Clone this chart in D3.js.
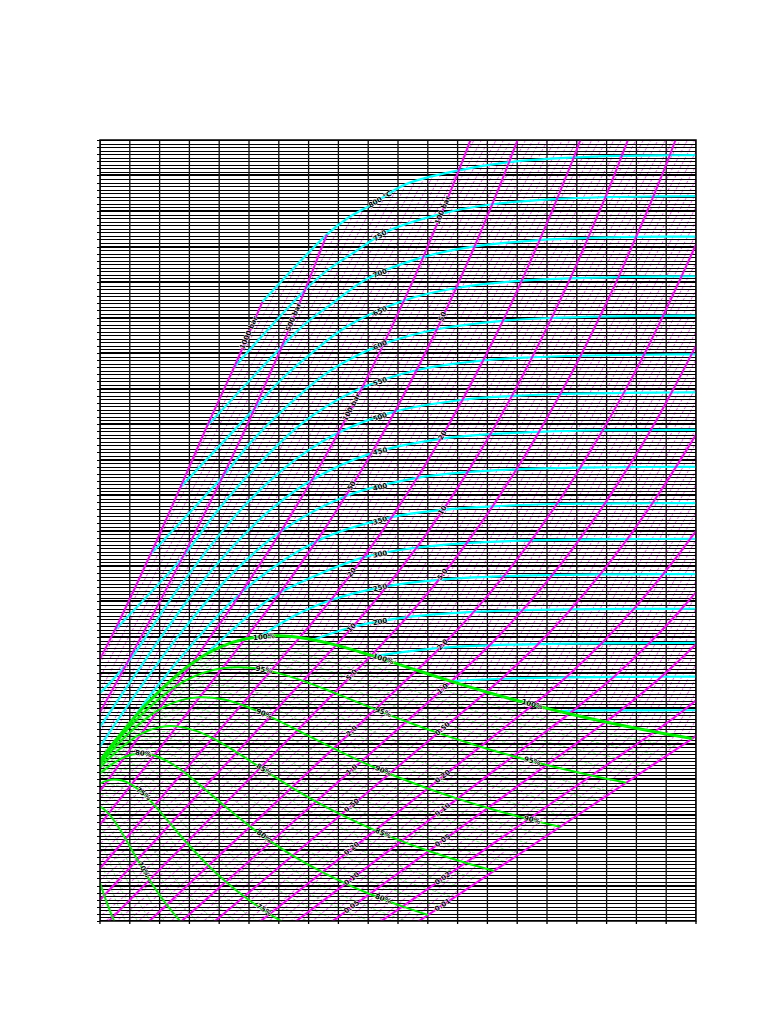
<!DOCTYPE html>
<html lang="en">
<head>
<meta charset="UTF-8">
<title>Mollier chart</title>
<script src="https://cdn.jsdelivr.net/npm/d3@7"></script>
<style>
  body {margin: 0; background: #fff}
  svg {display: block}
  text {font-family: "DejaVu Sans", sans-serif}
</style>
</head>
<body>
<script>

// page and plot box
var w = 768, h = 1024;
var plotL = 100, plotR = 696, plotT = 140, plotB = 921;

// entropy (kJ/kgK) and enthalpy (kJ/kg) ranges
var sDomain = [5, 9];
var hDomain = [2000, 4200];

// saturation table, by pressure (bar)
var satP  = [220.64, 210, 200, 180, 150, 100, 70, 50, 30, 20, 10, 5, 2, 1, 0.5, 0.2, 0.1, 0.05, 0.02, 0.01];
var satHf = [2084.3, 1889, 1827.2, 1732.0, 1610.2, 1408.1, 1267.5, 1154.5, 1008.3, 908.5, 762.5, 640.1, 504.7, 417.5, 340.5, 251.4, 191.8, 137.7, 73.4, 29.3];
var satHg = [2084.3, 2341, 2412.3, 2509.7, 2610.7, 2725.5, 2772.6, 2794.2, 2803.3, 2798.3, 2777.1, 2748.1, 2706.2, 2674.9, 2645.2, 2608.9, 2583.9, 2560.7, 2533.0, 2513.7];
var satSf = [4.407, 4.108, 4.0156, 3.8715, 3.6848, 3.3606, 3.1224, 2.9210, 2.6454, 2.4467, 2.1381, 1.8604, 1.5302, 1.3028, 1.0912, 0.8320, 0.6492, 0.4763, 0.2606, 0.1059];
var satSg = [4.407, 4.812, 4.9314, 5.1060, 5.3108, 5.6160, 5.8148, 5.9737, 6.1856, 6.3390, 6.5850, 6.8207, 7.1269, 7.3588, 7.5930, 7.9072, 8.1488, 8.3939, 8.7226, 8.9749];

// saturated vapour, by temperature (start of each isotherm)
var satTT  = [50, 100, 150, 200, 250, 300, 350];
var satTSg = [8.0748, 7.3541, 6.8371, 6.4302, 6.0721, 5.7059, 5.2112];
var satTHg = [2591.3, 2675.6, 2745.9, 2792.0, 2800.9, 2749.6, 2563.9];

// superheated / supercritical states per pressure: [T, s, h]
var p1000 = [[500,4.75,2540],[550,5.10,2820],[600,5.34,3034],[650,5.54,3222],[700,5.72,3395],[750,5.90,3560],[800,6.09,3744]];
var p500 = [[400,4.0029,1874.4],[450,4.5896,2284.7],[500,5.1762,2722.5],[550,5.5563,3025.7],[600,5.8245,3252.6],[650,6.0373,3443.5],[700,6.2179,3616.7],[750,6.375,3777],[800,6.5225,3933.4]];
var p400 = [[450,4.9449,2511.8],[500,5.4744,2906.5],[550,5.7857,3154.4],[600,6.0170,3350.4],[650,6.2078,3521.8],[700,6.3740,3681.0],[750,6.52,3831],[800,6.6613,3979.6]];
var p300 = [[400,4.4750,2152.8],[450,5.4464,2821.4],[500,5.7956,3084.8],[550,6.03,3272],[600,6.2373,3443.0],[650,6.404,3594],[700,6.5599,3739.7],[750,6.70,3882],[800,6.832,4020]];
var p250 = [[400,5.1418,2580.2],[450,5.675,2950],[500,5.9605,3165.7]];
var p200 = [[400,5.5585,2819.9],[450,5.9089,3062.4],[500,6.1434,3241.2],[550,6.3390,3396.2],[600,6.5075,3539.0],[650,6.6593,3675.3],[700,6.7990,3810.7],[750,6.93,3943],[800,7.051,4075]];
var p150 = [[350,5.4438,2692.4],[400,5.8811,2975.7],[450,6.1434,3157.9],[500,6.3480,3310.8],[550,6.5230,3450.4],[600,6.6796,3583.1]];
var p100 = [[350,5.9460,2924.0],[400,6.2141,3097.4],[450,6.4219,3242.4],[500,6.5995,3375.1],[550,6.7585,3502.0],[600,6.9045,3625.8],[650,7.0408,3748.1],[700,7.1693,3870.0],[750,7.2904,3992.0],[800,7.4085,4114.5],[900,7.63,4361]];
var p60 = [[300,6.0703,2885.5]];
var p50 = [[300,6.2110,2925.7],[350,6.4516,3069.3],[400,6.6483,3196.7],[450,6.8210,3317.2],[500,6.9781,3434.7],[550,7.1237,3551.4],[600,7.2605,3666.9],[650,7.3904,3783.0],[700,7.5136,3900.3],[750,7.6324,4019.0],[800,7.7458,4137.7],[900,7.96,4378]];
var p30 = [[250,6.2893,2856.5]];
var p20 = [[250,6.5475,2903.3],[300,6.7684,3024.2],[350,6.9583,3137.7],[400,7.1292,3248.4],[450,7.2866,3358.2],[500,7.4337,3468.3],[550,7.5725,3579.4],[600,7.7043,3690.7],[650,7.8305,3803.8],[700,7.9509,3918.2],[750,8.0673,4034.0],[800,8.1791,4150.7],[900,8.391,4389]];
var p10 = [[200,6.6956,2828.3],[250,6.9265,2943.1],[300,7.1246,3051.6],[350,7.3029,3158.2],[400,7.4670,3264.5],[450,7.6200,3371.3],[500,7.7642,3479.1],[550,7.9003,3588.0],[600,8.0311,3698.6],[650,8.1565,3810.4],[700,8.2755,3924.1],[750,8.392,4039.0],[800,8.5024,4155.2],[900,8.714,4392]];
var p5 = [[200,7.0611,2855.8],[250,7.2726,2961.0],[300,7.4614,3064.6],[350,7.6346,3168.1],[400,7.7956,3272.4],[450,7.9465,3378.0],[500,8.0893,3484.5],[550,8.226,3592.3],[600,8.3544,3702.5],[650,8.480,3813.7],[700,8.5978,3927.0],[750,8.714,4041.0],[800,8.824,4157.0],[900,9.034,4393]];
var p2 = [[150,7.2810,2769.1],[200,7.5081,2870.7],[250,7.7100,2971.2],[300,7.8941,3072.1],[350,8.066,3174.6],[400,8.2236,3277.0],[450,8.374,3382.4],[500,8.5153,3487.7],[550,8.651,3595.0],[600,8.7793,3704.8],[650,8.903,3815.9],[700,9.0221,3927.8],[750,9.137,4042.0],[800,9.247,4158.3]];
var p1 = [[100,7.3611,2675.8],[150,7.6148,2776.6],[200,7.8356,2875.5],[250,8.0346,2974.5],[300,8.2171,3074.5],[350,8.388,3175.8],[400,8.5452,3278.6],[450,8.697,3383.1],[500,8.8362,3488.7],[550,8.970,3596.2],[600,9.0999,3705.1],[650,9.226,3816.5]];
var p05 = [[100,7.6953,2682.4],[150,7.9413,2780.2],[200,8.1592,2877.7],[250,8.3568,2976.2],[300,8.5387,3075.8],[350,8.7076,3176.8],[400,8.8659,3279.2],[450,9.018,3383.5],[500,9.156,3489.0],[550,9.29,3596.5]];
var p02 = [[100,8.1262,2686.2],[150,8.367,2782.3],[200,8.583,2879.0],[250,8.780,2976.9],[300,8.961,3076.2],[350,9.131,3177.0],[400,9.288,3279.5]];
var p01 = [[50,8.1749,2592.6],[100,8.4479,2687.5],[150,8.6882,2783.0],[200,8.9038,2879.5],[250,9.1002,2977.3],[300,9.2813,3076.5]];
var p005 = [[50,8.4948,2593.3],[100,8.7678,2688.1],[150,9.008,2783.2],[200,9.2237,2879.7]];
var p002 = [[50,8.918,2593.6],[100,9.19,2688.4]];
var p001 = [[50,9.238,2593.8],[100,9.51,2688.5]];

// drawn lines and their labels
var isobars = [1000, 500, 100, 50, 20, 10, 5, 2, 1, 0.5, 0.2, 0.1, 0.05, 0.02, 0.01];
var isobarText = ["1000 bar", "500 bar", "100 bar", "50", "20", "10", "5.0", "2.0", "1.0", "0.50", "0.20", "0.10", "0.05", "0.02", "0.01"];
var isotherms = [50, 100, 150, 200, 250, 300, 350, 400, 450, 500, 550, 600, 650, 700, 750, 800];
var labelledTemps = [200, 250, 300, 350, 400, 450, 500, 550, 600, 650, 700, 750, 800];
var qualities = [1.0, 0.95, 0.90, 0.85, 0.80, 0.75, 0.70, 0.65];
var qualityText = ["100%", "95%", "90%", "85%", "80%", "75%", "70%", "65%"];

var rows = [[1000,p1000],[500,p500],[400,p400],[300,p300],[250,p250],[200,p200],[150,p150],[100,p100],[60,p60],[50,p50],[30,p30],[20,p20],[10,p10],[5,p5],[2,p2],[1,p1],[0.5,p05],[0.2,p02],[0.1,p01],[0.05,p005],[0.02,p002],[0.01,p001]];

//Create SVG element
var svg = d3.select("body")
    .append("svg")
    .attr("width", w)
    .attr("height", h);

var x = d3.scaleLinear().domain(sDomain).range([plotL, plotR]);
var y = d3.scaleLinear().domain(hDomain).range([plotB, plotT]);

// grid lines snapped to whole pixels
function snap(v) { return Math.round(v) + 0.5; }

var curve = d3.line()
    .x(function(d) { return x(d[0]); })
    .y(function(d) { return y(d[1]); })
    .curve(d3.curveCatmullRom.alpha(0.5));
var straight = d3.line()
    .x(function(d) { return x(d[0]); })
    .y(function(d) { return y(d[1]); });

var defs = svg.append("defs");
defs.append("clipPath").attr("id", "plot")
    .append("rect")
    .attr("x", plotL).attr("y", plotT)
    .attr("width", plotR - plotL).attr("height", plotB - plotT);

// dashed hatch standing in for the fine intermediate isobars
function hatch(id, angle, gap) {
    var p = defs.append("pattern")
        .attr("id", id)
        .attr("patternUnits", "userSpaceOnUse")
        .attr("width", 5).attr("height", gap)
        .attr("patternTransform", "rotate(" + angle + ")");
    p.append("line")
        .attr("x1", 0).attr("x2", 3)
        .attr("y1", gap / 2).attr("y2", gap / 2)
        .attr("stroke", "#ff40ff")
        .attr("stroke-width", 0.8);
}
hatch("hatchSup", -62, 6.5);
hatch("hatchWet", -40, 7);

// line builders
function satIndex(p) { return satP.indexOf(p); }

function isotherm(T) {
    var pts = [];
    var k = satTT.indexOf(T);
    if (k >= 0) pts.push([satTSg[k], satTHg[k]]);
    rows.forEach(function(r) {
        r[1].forEach(function(d) { if (d[0] === T) pts.push([d[1], d[2]]); });
    });
    return pts;
}

function isobarSuper(p) {
    var pts = [];
    var i = satIndex(p);
    if (i >= 0) pts.push([satSg[i], satHg[i]]);
    var row = rows.filter(function(r) { return r[0] === p; })[0][1];
    row.forEach(function(d) { pts.push([d[1], d[2]]); });
    return pts;
}

function isobarWet(p) {
    var i = satIndex(p);
    if (i < 0) return null;
    return [[satSf[i], satHf[i]], [satSg[i], satHg[i]]];
}

function qualityLine(q) {
    return satP.map(function(p, i) {
        return [satSf[i] + q * (satSg[i] - satSf[i]), satHf[i] + q * (satHg[i] - satHf[i])];
    });
}

var satVapour = satP.map(function(p, i) { return [satSg[i], satHg[i]]; });

// point of a polyline at a given entropy, with the local angle on screen
function atS(pts, s) {
    for (var i = 1; i < pts.length; i++) {
        var a = pts[i - 1], b = pts[i];
        if ((a[0] - s) * (b[0] - s) <= 0 && a[0] !== b[0]) {
            var t = (s - a[0]) / (b[0] - a[0]);
            var hh = a[1] + t * (b[1] - a[1]);
            var ang = Math.atan2(y(b[1]) - y(a[1]), x(b[0]) - x(a[0])) * 180 / Math.PI;
            if (hh < hDomain[0] || hh > hDomain[1]) return null;
            return {s: s, h: hh, ang: ang};
        }
    }
    return null;
}

var plot = svg.append("g").attr("clip-path", "url(#plot)");

// hatch areas
var iso800 = isotherm(800);
var supPoly = p1000.map(function(d) { return [d[1], d[2]]; })
    .concat(iso800.slice(1, 6))
    .concat([[7.63, 4361], [9.6, 4700], [9.6, 2680], [9.238, 2593.8]])
    .concat(satVapour.slice().reverse());
var wetPoly = satVapour.concat([[satSf[satSf.length - 1], satHf[satHf.length - 1]]]);

plot.append("path")
    .attr("d", straight(supPoly) + "Z")
    .attr("fill", "url(#hatchSup)");
plot.append("path")
    .attr("d", straight(wetPoly) + "Z")
    .attr("fill", "url(#hatchWet)");

// fine dashed quality lines, one per percent
var minorQ = d3.range(66, 100).filter(function(v) { return v % 5 !== 0; }).map(function(v) { return v / 100; });
plot.selectAll(".minorq")
    .data(minorQ)
    .enter()
    .append("path")
    .attr("class", "minorq")
    .attr("d", function(q) { return curve(qualityLine(q)); })
    .attr("fill", "none")
    .attr("stroke", "#40f040")
    .attr("stroke-width", 0.7)
    .attr("stroke-dasharray", "3,2");

// enthalpy grid
var hLines = d3.range(hDomain[0], hDomain[1] + 1, 10);
plot.selectAll(".hgrid")
    .data(hLines)
    .enter()
    .append("line")
    .attr("class", "hgrid")
    .attr("x1", plotL).attr("x2", plotR)
    .attr("y1", function(d) { return d % 100 === 0 ? Math.round(y(d)) : snap(y(d)); })
    .attr("y2", function(d) { return d % 100 === 0 ? Math.round(y(d)) : snap(y(d)); })
    .attr("stroke", "#000")
    .attr("stroke-width", function(d) { return d % 100 === 0 ? 2 : 1; })
    .attr("shape-rendering", "crispEdges");

// entropy grid
var sLines = d3.range(0, 21).map(function(i) { return sDomain[0] + i * 0.2; });
plot.selectAll(".sgrid")
    .data(sLines)
    .enter()
    .append("line")
    .attr("class", "sgrid")
    .attr("x1", function(d) { return x(d); })
    .attr("x2", function(d) { return x(d); })
    .attr("y1", plotT).attr("y2", plotB)
    .attr("stroke", "#111")
    .attr("stroke-width", 1.3);

// isotherms
plot.selectAll(".isotherm")
    .data(isotherms)
    .enter()
    .append("path")
    .attr("class", "isotherm")
    .attr("d", function(T) { return curve(isotherm(T)); })
    .attr("fill", "none")
    .attr("stroke", "#00ffff")
    .attr("stroke-width", 2.2);

// isobars, straight in the wet region
plot.selectAll(".isobarwet")
    .data(isobars.filter(function(p) { return isobarWet(p); }))
    .enter()
    .append("path")
    .attr("class", "isobarwet")
    .attr("d", function(p) { return straight(isobarWet(p)); })
    .attr("fill", "none")
    .attr("stroke", "#ff00ff")
    .attr("stroke-width", 2);

plot.selectAll(".isobar")
    .data(isobars)
    .enter()
    .append("path")
    .attr("class", "isobar")
    .attr("d", function(p) { return curve(isobarSuper(p)); })
    .attr("fill", "none")
    .attr("stroke", "#ff00ff")
    .attr("stroke-width", 2);

// quality lines
plot.selectAll(".quality")
    .data(qualities)
    .enter()
    .append("path")
    .attr("class", "quality")
    .attr("d", function(q) { return curve(qualityLine(q)); })
    .attr("fill", "none")
    .attr("stroke", "#00ee00")
    .attr("stroke-width", function(q) { return q === 1 ? 3 : 2; });

// labels
var labels = [];
function addLabel(pt, txt) {
    if (pt) labels.push({x: x(pt.s), y: y(pt.h), ang: pt.ang, text: txt});
}

isobars.forEach(function(p, i) {
    var wet = isobarWet(p), sup = isobarSuper(p);
    var cols = p === 1000 ? [6.0] : p === 500 ? [6.3] : [6.69, 7.30];
    cols.forEach(function(s) {
        addLabel((wet && atS(wet, s)) || atS(sup, s), isobarText[i]);
    });
});

labelledTemps.forEach(function(T) {
    addLabel(atS(isotherm(T), 6.88), T === 800 ? "800 °C" : String(T));
});

var qualityCols = [[5.29, [0.80, 0.75, 0.70]], [6.1, [1.0, 0.95, 0.90, 0.85, 0.80, 0.75]],
                   [6.9, [1.0, 0.95, 0.90, 0.85, 0.80]], [7.9, [1.0, 0.95, 0.90]]];
qualityCols.forEach(function(c) {
    c[1].forEach(function(q) {
        addLabel(atS(qualityLine(q), c[0]), qualityText[qualities.indexOf(q)]);
    });
});

plot.selectAll(".lbl")
    .data(labels)
    .enter()
    .append("text")
    .attr("class", "lbl")
    .attr("transform", function(d) { return "translate(" + d.x + "," + d.y + ") rotate(" + d.ang + ")"; })
    .attr("text-anchor", "middle")
    .attr("dominant-baseline", "central")
    .attr("font-size", "7px")
    .attr("font-weight", "bold")
    .attr("fill", "#000")
    .attr("stroke", "#fff")
    .attr("stroke-width", 0.8)
    .attr("paint-order", "stroke")
    .text(function(d) { return d.text; });

// ticks and frame
var hTicks = d3.range(hDomain[0], hDomain[1] + 1, 20);
svg.selectAll(".ltick")
    .data(hTicks)
    .enter()
    .append("line")
    .attr("class", "ltick")
    .attr("x1", plotL - 3).attr("x2", plotL)
    .attr("y1", function(d) { return snap(y(d)); })
    .attr("y2", function(d) { return snap(y(d)); })
    .attr("stroke", "#000")
    .attr("shape-rendering", "crispEdges");

svg.selectAll(".btick")
    .data(sLines)
    .enter()
    .append("line")
    .attr("class", "btick")
    .attr("x1", function(d) { return x(d); })
    .attr("x2", function(d) { return x(d); })
    .attr("y1", plotB).attr("y2", plotB + 3)
    .attr("stroke", "#000")
    .attr("stroke-width", 1.3);

svg.append("rect")
    .attr("x", plotL).attr("y", plotT)
    .attr("width", plotR - plotL).attr("height", plotB - plotT)
    .attr("fill", "none")
    .attr("stroke", "#000")
    .attr("stroke-width", 1.5);

</script>
</body>
</html>
